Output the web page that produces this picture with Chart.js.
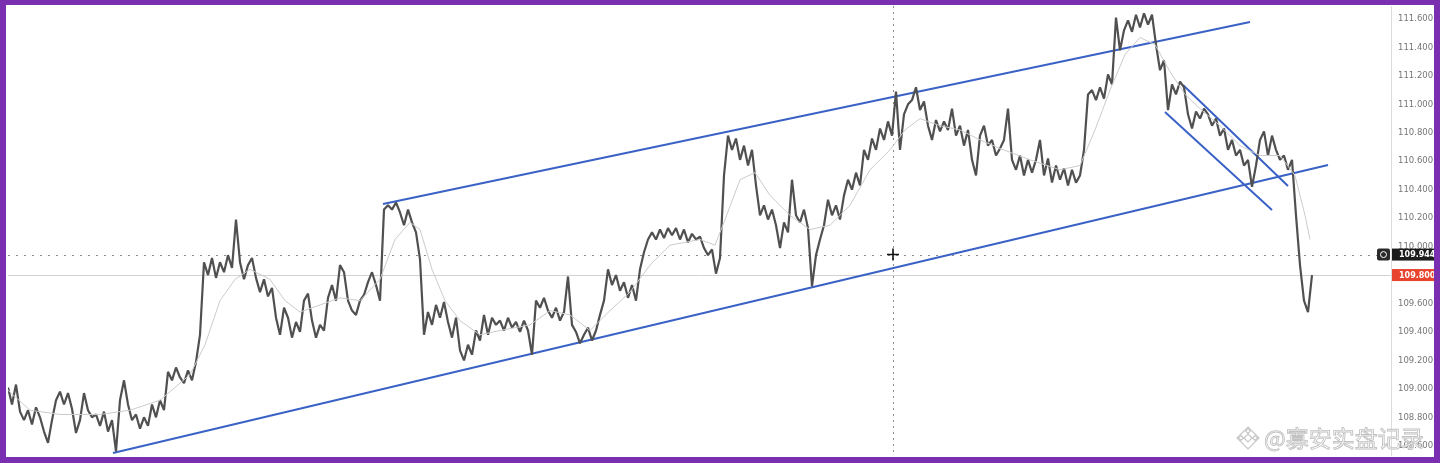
<!DOCTYPE html>
<html><head><meta charset="utf-8">
<script src="https://cdn.jsdelivr.net/npm/chart.js@4.4.0/dist/chart.umd.min.js"></script>
<style>
html,body{margin:0;padding:0;background:#fff;}
#frame{position:absolute;left:0;top:0;width:1440px;height:463px;box-sizing:border-box;border-style:solid;border-color:#7a2fb0;border-width:5px 6px 6px 6px;background:#fff;}
#wrap{position:absolute;left:0;top:0;width:1428px;height:452px;}
</style></head><body>
<div id="frame"><div id="wrap"><canvas id="c"></canvas></div></div>
<script>
// Price path (one value per bar, bar index = position in array)
const closes = [
109.01,108.89,109.03,108.84,108.78,108.85,108.75,108.87,108.80,108.70,
108.62,108.78,108.92,108.98,108.89,108.97,108.86,108.69,108.78,108.97,
108.85,108.80,108.82,108.74,108.84,108.70,108.78,108.56,108.92,109.06,
108.89,108.78,108.82,108.72,108.80,108.74,108.89,108.80,108.92,108.85,
109.12,109.06,109.15,109.08,109.04,109.13,109.06,109.19,109.38,109.89,
109.80,109.92,109.78,109.89,109.82,109.94,109.85,110.19,109.89,109.77,
109.87,109.92,109.78,109.68,109.77,109.65,109.71,109.50,109.38,109.57,
109.50,109.36,109.47,109.40,109.62,109.67,109.48,109.36,109.45,109.41,
109.64,109.73,109.62,109.87,109.82,109.62,109.55,109.52,109.62,109.66,
109.75,109.82,109.73,109.62,110.26,110.29,110.26,110.31,110.24,110.15,
110.26,110.17,110.10,109.91,109.38,109.54,109.45,109.59,109.50,109.61,
109.47,109.36,109.50,109.27,109.20,109.31,109.24,109.41,109.34,109.52,
109.38,109.50,109.45,109.48,109.41,109.50,109.43,109.47,109.40,109.48,
109.41,109.24,109.62,109.57,109.64,109.55,109.50,109.57,109.48,109.54,
109.79,109.45,109.40,109.32,109.38,109.43,109.34,109.41,109.52,109.62,
109.84,109.73,109.80,109.69,109.75,109.64,109.73,109.62,109.84,109.96,
110.05,110.10,110.05,110.12,110.06,110.13,110.08,110.13,110.05,110.12,
110.03,110.09,110.05,110.07,109.99,109.94,109.98,109.81,109.92,110.50,
110.78,110.68,110.76,110.61,110.71,110.57,110.68,110.43,110.22,110.29,
110.19,110.26,110.15,109.99,110.17,110.10,110.47,110.22,110.17,110.26,
110.13,109.72,109.94,110.05,110.15,110.33,110.22,110.29,110.19,110.36,
110.47,110.40,110.52,110.43,110.68,110.61,110.76,110.68,110.83,110.75,
110.88,110.78,111.09,110.68,110.93,111.00,111.03,111.12,110.96,111.02,
110.85,110.75,110.89,110.81,110.88,110.82,110.97,110.78,110.85,110.71,
110.82,110.61,110.50,110.78,110.85,110.71,110.75,110.64,110.69,110.75,
110.97,110.61,110.54,110.64,110.50,110.61,110.52,110.61,110.75,110.50,
110.62,110.45,110.57,110.47,110.55,110.43,110.54,110.45,110.50,110.68,
111.07,111.10,111.03,111.12,111.04,111.21,111.14,111.61,111.38,111.52,
111.59,111.51,111.63,111.54,111.64,111.56,111.63,111.42,111.24,111.31,
110.96,111.14,111.07,111.16,111.12,110.93,110.83,110.95,110.90,110.97,
110.93,110.85,110.90,110.78,110.83,110.68,110.75,110.64,110.68,110.57,
110.61,110.42,110.57,110.75,110.81,110.64,110.78,110.68,110.61,110.64,
110.54,110.61,110.22,109.87,109.62,109.54,109.80
];

// Moving average (read at sparse bars)
const maBars = [0,5.5,13,23,30.5,38,45.5,49.25,53,56.75,60.5,65.5,69.25,73,78,83,88,93,96.75,100.5,103,106,109.25,113,118,123,130.5,135.5,140.5,145.5,150.5,155.5,160.5,165.5,173,176.75,179.25,183,186.75,190.5,195.5,200.5,205.5,210.5,215.5,220.5,224.25,228,233,238,243,248,255.5,263,268,271.75,275.5,279.25,283,286.75,290.5,294.25,298,303,308,313,318,321.75,324.25,325.5];
const maValues = [108.99,108.85,108.82,108.82,108.85,108.92,109.10,109.31,109.62,109.77,109.84,109.77,109.62,109.54,109.59,109.64,109.62,109.77,110.05,110.17,110.12,109.84,109.62,109.48,109.38,109.41,109.45,109.55,109.52,109.41,109.55,109.68,109.87,110.01,110.05,110.01,110.19,110.47,110.52,110.36,110.22,110.12,110.15,110.29,110.54,110.68,110.82,110.90,110.85,110.82,110.75,110.69,110.61,110.54,110.57,110.82,111.10,111.35,111.47,111.42,111.23,111.07,110.97,110.85,110.71,110.64,110.64,110.50,110.22,110.05];

// Trend lines: endpoints as [bar, price]
const upperChannelBars = [93.75, 310.5];
const upperChannelPrices = [110.300, 111.579];
const lowerChannelBars = [26.25, 330];
const lowerChannelPrices = [108.549, 110.574];
const flagTopBars = [293.75, 320];
const flagTopPrices = [111.136, 110.426];
const flagBottomBars = [289.25, 316];
const flagBottomPrices = [110.946, 110.257];

// Axis ticks
const tickValues = [111.6,111.4,111.2,111.0,110.8,110.6,110.4,110.2,110.0,109.6,109.4,109.2,109.0,108.8,108.6];
const tickLabels = ['111.600','111.400','111.200','111.000','110.800','110.600','110.400','110.200','110.000','109.600','109.400','109.200','109.000','108.800','108.600'];

// Crosshair and last price
const crossBar = 221.25;
const crossPrice = 109.944;
const crossLabel = '109.944';
const lastPrice = 109.80;
const lastLabel = '109.800';
const watermarkText = '@寡安实盘记录';

const pts = (xs, ys) => xs.map((b, i) => ({x: b, y: ys[i]}));
const lineDs = (data, color, width) => ({data, borderColor: color, borderWidth: width, pointRadius: 0, tension: 0, fill: false, borderJoinStyle: 'bevel'});

const overlay = {
  id: 'overlay',
  beforeDatasetsDraw(chart) {
    const {ctx, chartArea: a, scales: {x, y}} = chart;
    const yl = Math.round(y.getPixelForValue(lastPrice)) + 0.5;
    const yc = Math.round(y.getPixelForValue(crossPrice)) + 0.5;
    const xc = Math.round(x.getPixelForValue(crossBar)) + 0.5;
    ctx.save();
    ctx.lineWidth = 1;
    ctx.strokeStyle = '#d2d2d2';
    ctx.beginPath(); ctx.moveTo(a.left, yl); ctx.lineTo(a.right, yl); ctx.stroke();
    ctx.strokeStyle = '#8c8c8c';
    ctx.setLineDash([2, 6]);
    ctx.beginPath(); ctx.moveTo(a.left, yc); ctx.lineTo(a.right, yc); ctx.stroke();
    ctx.setLineDash([2, 4]);
    ctx.beginPath(); ctx.moveTo(xc, a.top); ctx.lineTo(xc, a.bottom); ctx.stroke();
    ctx.restore();
  },
  afterDraw(chart) {
    const {ctx, chartArea: a, scales: {x, y}, width: W, height: H} = chart;
    const yl = y.getPixelForValue(lastPrice);
    const yc = y.getPixelForValue(crossPrice);
    const xc = x.getPixelForValue(crossBar);
    ctx.save();
    ctx.strokeStyle = '#111'; ctx.lineWidth = 1.6;
    ctx.beginPath();
    ctx.moveTo(xc - 6, yc); ctx.lineTo(xc + 6, yc);
    ctx.moveTo(xc, yc - 6); ctx.lineTo(xc, yc + 6);
    ctx.stroke();
    ctx.font = 'bold 8px "DejaVu Sans", sans-serif';
    ctx.textBaseline = 'middle'; ctx.textAlign = 'left';
    ctx.fillStyle = '#e8432c';
    ctx.fillRect(a.right + 1, yl - 6, W - a.right - 1, 12);
    ctx.fillStyle = '#fff';
    ctx.fillText(lastLabel, a.right + 8, yl + 0.5);
    ctx.fillStyle = '#1c1c1c';
    ctx.fillRect(a.right + 1, yc - 6, W - a.right - 1, 12);
    ctx.fillStyle = '#fff';
    ctx.fillText(crossLabel, a.right + 8, yc + 0.5);
    ctx.fillStyle = '#2a2a2a';
    ctx.beginPath();
    ctx.roundRect(a.right - 14, yc - 6, 13, 12, 2);
    ctx.fill();
    ctx.strokeStyle = '#fff'; ctx.lineWidth = 1;
    ctx.beginPath(); ctx.arc(a.right - 7.5, yc, 3, 0, Math.PI * 2); ctx.stroke();
    const bx = W - 186, by = H - 19;
    ctx.strokeStyle = '#c8c8c8'; ctx.lineWidth = 1.2;
    const dia = (cx, cy, r) => { ctx.beginPath(); ctx.moveTo(cx, cy - r); ctx.lineTo(cx + r, cy); ctx.lineTo(cx, cy + r); ctx.lineTo(cx - r, cy); ctx.closePath(); ctx.stroke(); };
    dia(bx, by, 11); dia(bx, by, 4); dia(bx - 7, by, 2.5); dia(bx + 7, by, 2.5); dia(bx, by - 7, 2.5);
    ctx.font = '23px "Noto Sans CJK SC", sans-serif';
    ctx.textAlign = 'left'; ctx.textBaseline = 'middle';
    ctx.fillStyle = 'rgba(255,255,255,0.55)';
    ctx.fillText(watermarkText, bx + 16, by);
    ctx.strokeStyle = '#c2c2c2'; ctx.lineWidth = 0.9;
    ctx.strokeText(watermarkText, bx + 16, by);
    ctx.restore();
  }
};

new Chart(document.getElementById('c'), {
  type: 'line',
  data: {
    datasets: [
      lineDs(pts(maBars, maValues), '#cbcbcb', 1),
      lineDs(closes.map((v, i) => ({x: i, y: v})), '#505050', 2.2),
      lineDs(pts(upperChannelBars, upperChannelPrices), '#3a62c6', 2),
      lineDs(pts(lowerChannelBars, lowerChannelPrices), '#3a62c6', 2),
      lineDs(pts(flagTopBars, flagTopPrices), '#3a62c6', 2),
      lineDs(pts(flagBottomBars, flagBottomPrices), '#3a62c6', 2)
    ]
  },
  options: {
    responsive: true, maintainAspectRatio: false, animation: false,
    layout: {padding: {left: 2, top: 1, right: 0, bottom: 2}},
    plugins: {legend: {display: false}, tooltip: {enabled: false}},
    events: [],
    scales: {
      x: {type: 'linear', display: false, min: 0, max: 345.75},
      y: {
        position: 'right', min: 108.535, max: 111.6914,
        afterBuildTicks: s => { s.ticks = tickValues.map(v => ({value: v})); },
        afterFit: s => { s.width = 43; s.paddingTop = 0; s.paddingBottom = 0; },
        ticks: {callback: (v, i) => tickLabels[i], color: '#767676', font: {size: 8.5, family: 'DejaVu Sans'}, padding: 7, autoSkip: false, maxRotation: 0},
        grid: {display: false, drawTicks: false},
        border: {display: true, color: '#dcdcdc', width: 1}
      }
    }
  },
  plugins: [overlay]
});
</script>
</body></html>
